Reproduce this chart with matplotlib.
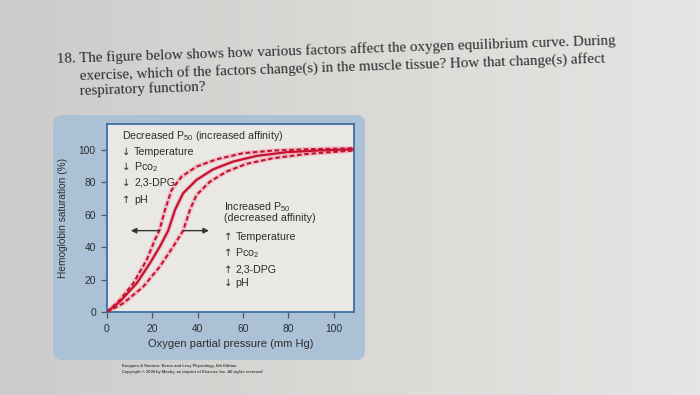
import numpy as np
import matplotlib
matplotlib.use('Agg')
import matplotlib.pyplot as plt
from matplotlib.patches import FancyBboxPatch

plt.rcParams['font.family'] = ['Liberation Sans', 'DejaVu Sans']
plt.rcParams['mathtext.fontset'] = 'custom'
plt.rcParams['mathtext.rm'] = 'Liberation Sans'
plt.rcParams['mathtext.it'] = 'Liberation Sans:italic'
plt.rcParams['mathtext.bf'] = 'Liberation Sans:bold'

# Curves (PO2 in mm Hg, saturation in %)
po2_left = [0, 5.7, 11.6, 17.5, 21.1, 23.1, 25.6, 28.5, 32.9, 39.5, 48.3, 60, 73.3, 88, 108.5]
sat_left = [0, 7.4, 17.7, 32.1, 44.4, 50.2, 63, 75.3, 83.5, 89.7, 94.2, 98, 99.6, 100.4, 101]

po2_mid = [0, 5.7, 13.1, 18.9, 23.3, 27, 30, 33.6, 39.5, 46.8, 55.6, 66, 79.2, 92.4, 108.5]
sat_mid = [0, 6.4, 17.7, 30, 40.3, 50.2, 63, 73.3, 81.5, 88, 92.8, 96.3, 98.6, 99.6, 100.4]

po2_right = [0, 7.2, 16, 23.3, 29.2, 33.6, 36.6, 39.5, 45.4, 52.7, 61.5, 73.3, 88, 108.5]
sat_right = [0, 5.4, 15.6, 28, 40.3, 50.2, 63, 72.2, 80.4, 86.6, 91.4, 94.9, 97.5, 99.6]

xticks = [0, 20, 40, 60, 80, 100]
yticks = [0, 20, 40, 60, 80, 100]

# (arrow, text) pairs; '' = no arrow
left_lines = [('', 'Decreased P$_{50}$ (increased affinity)'), ('\u2193', 'Temperature'),
              ('\u2193', 'Pco$_2$'), ('\u2193', '2,3-DPG'), ('\u2191', 'pH')]
right_lines = [('', 'Increased P$_{50}$'), ('', '(decreased affinity)'), ('\u2191', 'Temperature'),
               ('\u2191', 'Pco$_2$'), ('\u2191', '2,3-DPG'), ('\u2193', 'pH')]

question = ['18. The figure below shows how various factors affect the oxygen equilibrium curve. During',
            'exercise, which of the factors change(s) in the muscle tissue? How that change(s) affect',
            'respiratory function?']
credit = ['Koeppen & Stanton: Berne and Levy Physiology, 6th Edition',
          'Copyright \u00a9 2008 by Mosby, an imprint of Elsevier, Inc. All rights reserved']

red = '#c4122f'
glow = '#f0a3b0'
ink = '#2e2e2e'
frame = '#3d6ea6'

fig = plt.figure(figsize=(7, 3.95), dpi=100)
fig.patch.set_facecolor('#d7d5d1')

# background layer in pixel coordinates
bg = fig.add_axes([0, 0, 1, 1], zorder=0)
bg.set_xlim(0, 700)
bg.set_ylim(395, 0)
bg.axis('off')
grad = np.linspace(0, 1, 200)[None, :]
bg.imshow(grad, extent=(0, 700, 395, 0), aspect='auto', cmap=matplotlib.colors.LinearSegmentedColormap.from_list(
    'paper', ['#cecccb', '#dbd9d6', '#e6e5e3']), zorder=0)
panel = FancyBboxPatch((55, 117), 308, 241, boxstyle='round,pad=2,rounding_size=9',
                       fc='#aac1d6', ec='none', zorder=1)
bg.add_patch(panel)

q_pos = [(57, 63), (80, 80), (80, 95)]
for (x0, y0), line in zip(q_pos, question):
    bg.text(x0, y0, line, family=['Liberation Serif', 'DejaVu Serif'],
            fontsize=10.8, color='#2a2a2a', ha='left', va='baseline',
            rotation=1.9, rotation_mode='anchor')
for i, line in enumerate(credit):
    bg.text(122, 366 + 6 * i, line, fontsize=2.9, fontweight='bold', color='#444', ha='left', va='center')

# the chart
ax = fig.add_axes([107 / 700, 1 - 312 / 395, 247 / 700, 188 / 395], zorder=2)
ax.set_facecolor('#e9e8e5')
ax.set_xlim(0, 109)
ax.set_ylim(0, 116)

for xs, ys in [(po2_left, sat_left), (po2_right, sat_right), (po2_mid, sat_mid)]:
    ax.plot(xs, ys, color=glow, lw=3.2, alpha=0.6, solid_capstyle='round', zorder=2)
ax.plot(po2_left, sat_left, color=red, lw=1.5, ls=(0, (2.2, 1.3)), zorder=3)
ax.plot(po2_right, sat_right, color=red, lw=1.5, ls=(0, (2.2, 1.3)), zorder=3)
ax.plot(po2_mid, sat_mid, color=red, lw=1.6, zorder=4)

ax.annotate('', xy=(10.5, 50.2), xytext=(23, 50.2),
            arrowprops=dict(arrowstyle='-|>', color='#333', lw=1.0, mutation_scale=8, shrinkA=0, shrinkB=0))
ax.annotate('', xy=(45, 50.2), xytext=(33.6, 50.2),
            arrowprops=dict(arrowstyle='-|>', color='#333', lw=1.0, mutation_scale=8, shrinkA=0, shrinkB=0))

def text_block(x0, ys, lines):
    for yy, (arrow, txt) in zip(ys, lines):
        if arrow:
            ax.text(x0, yy, arrow, family='DejaVu Sans', fontsize=7.2, color=ink, ha='left', va='center')
            ax.text(x0 + 5.2, yy, txt, fontsize=7.7, color=ink, ha='left', va='center')
        else:
            ax.text(x0, yy, txt, fontsize=7.7, color=ink, ha='left', va='center')

text_block(6.8, [108.6, 98.8, 89.5, 79.6, 69], left_lines)
text_block(51.5, [65, 57.8, 46.5, 36.2, 26, 17.7], right_lines)

for s in ax.spines.values():
    s.set_color(frame)
    s.set_linewidth(1.3)
ax.set_xticks(xticks)
ax.set_yticks(yticks)
ax.tick_params(axis='both', length=4, width=0.9, color='#555', labelsize=7.4, labelcolor=ink, pad=4)
ax.tick_params(axis='x', pad=5)
ax.set_xlabel('Oxygen partial pressure (mm Hg)', fontsize=8, color=ink, labelpad=3)
ax.set_ylabel('Hemoglobin saturation (%)', fontsize=7.3, color=ink, labelpad=8)

fig.savefig('out.png', dpi=100, facecolor=fig.get_facecolor())
